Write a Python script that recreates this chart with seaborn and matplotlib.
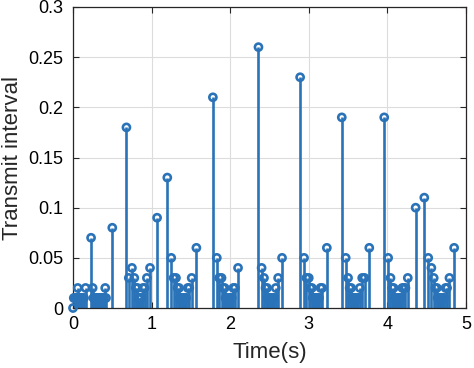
import numpy as np
import pandas as pd
import matplotlib
matplotlib.use("Agg")
import matplotlib.pyplot as plt
import seaborn as sns

# Transmit intervals (s), in transmission order; the first transmission is at t=0
first_value = [0.0]
seg_start = [0.01] * 4 + [0.02] + [0.01] * 8 + [0.02, 0.07, 0.02] + [0.01] * 14 + [0.02, 0.01, 0.08, 0.18]
cluster_a = [0.03, 0.04, 0.03, 0.02, 0.02] + [0.01] * 5 + [0.02, 0.02, 0.03, 0.04, 0.09, 0.13]
cluster_b = [0.05, 0.03, 0.03, 0.02, 0.02] + [0.01] * 9 + [0.02, 0.02, 0.03, 0.06, 0.21]
cluster_c = [0.05, 0.03, 0.03, 0.02, 0.02] + [0.01] * 9 + [0.02, 0.02, 0.04, 0.26]
cluster_d = [0.04, 0.03, 0.02, 0.02] + [0.01] * 9 + [0.02, 0.03, 0.05, 0.23]
cluster_e = [0.05, 0.03, 0.03, 0.02, 0.02] + [0.01] * 9 + [0.02, 0.02, 0.06, 0.19]
cluster_f = [0.05, 0.03, 0.02, 0.02] + [0.01] * 9 + [0.02, 0.03, 0.03, 0.06, 0.19]
cluster_g = [0.05, 0.03, 0.02, 0.02] + [0.01] * 9 + [0.02, 0.02, 0.02, 0.03, 0.10, 0.11]
cluster_h = [0.05, 0.04, 0.03, 0.02, 0.02] + [0.01] * 9 + [0.02, 0.02, 0.03, 0.06]

intervals = np.array(first_value + seg_start + cluster_a + cluster_b + cluster_c +
                     cluster_d + cluster_e + cluster_f + cluster_g + cluster_h)
times = np.round(np.cumsum(intervals), 4)

x_ticks = [0, 1, 2, 3, 4, 5]
y_ticks = [0, 0.05, 0.1, 0.15, 0.2, 0.25, 0.3]
y_tick_labels = ["0", "0.05", "0.1", "0.15", "0.2", "0.25", "0.3"]

df = pd.DataFrame({"Time": times, "Interval": intervals})

sns.set_theme(style="whitegrid")
plt.rcParams["font.family"] = ["Liberation Sans", "DejaVu Sans"]

color = "#2a73b8"
fig = plt.figure(figsize=(4.74, 3.68), dpi=100)
ax = fig.add_axes([0.154, 0.163, 0.829, 0.818])

ax.vlines(df["Time"], 0, df["Interval"], color=color, linewidth=1.9, zorder=2)
sns.scatterplot(data=df, x="Time", y="Interval", ax=ax, marker="o", s=26,
                facecolor="none", edgecolor=color, linewidth=1.9, zorder=3,
                clip_on=False)

ax.set_xlim(0, 5)
ax.set_ylim(0, 0.3)
ax.set_xticks(x_ticks)
ax.set_xticklabels([str(v) for v in x_ticks])
ax.set_yticks(y_ticks)
ax.set_yticklabels(y_tick_labels)
ax.set_xlabel("Time(s)", fontsize=16, labelpad=6)
ax.set_ylabel("Transmit interval", fontsize=16)
ax.yaxis.set_label_coords(-0.128, 0.5)
ax.tick_params(axis="both", labelsize=13, direction="in", length=4, width=0.8,
               color="#262626", top=True, right=True, bottom=True, left=True,
               labelcolor="black")
ax.tick_params(axis="x", pad=6)
ax.tick_params(axis="y", pad=7)
ax.grid(True, color="#dcdcdc", linewidth=0.8)
ax.set_facecolor("white")
for sp in ax.spines.values():
    sp.set_visible(True)
    sp.set_color("#262626")
    sp.set_linewidth(0.9)

fig.savefig("out.png", dpi=100)
